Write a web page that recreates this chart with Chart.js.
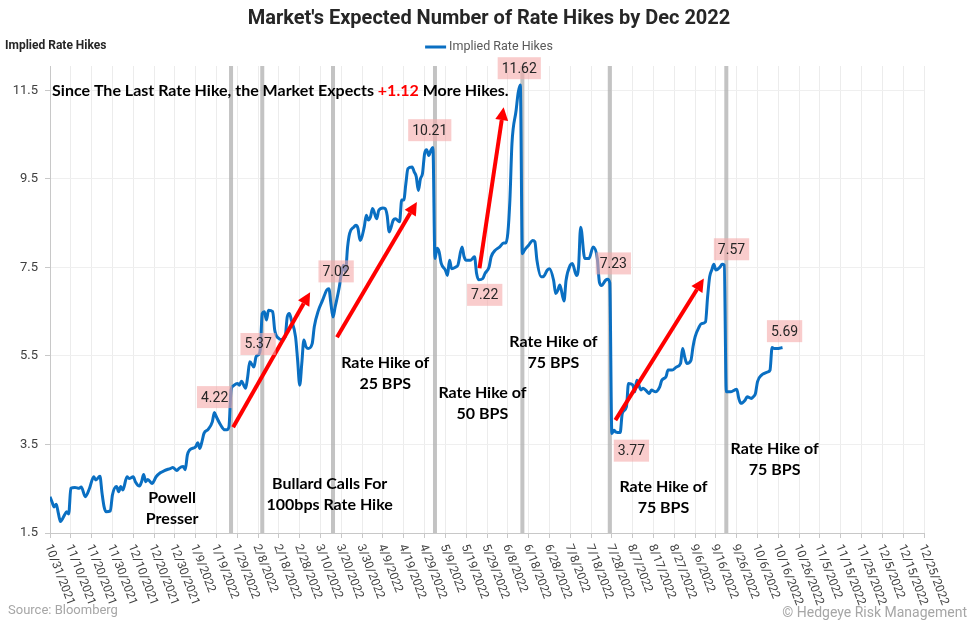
<!DOCTYPE html>
<html lang="en">
<head>
<meta charset="utf-8">
<title>Market's Expected Number of Rate Hikes by Dec 2022</title>
<style>
  html, body { margin: 0; background: #fff; }
  #wrap { width: 975px; height: 621px; position: relative; }
</style>
<script src="https://cdn.jsdelivr.net/npm/chart.js"></script>
</head>
<body>
<div id="wrap"><canvas id="chart"></canvas></div>
<script>
// implied number of hikes
var dates = [
  '2021-10-31','2021-11-01','2021-11-02','2021-11-03','2021-11-04','2021-11-05','2021-11-07','2021-11-08','2021-11-09','2021-11-10',
  '2021-11-12','2021-11-14','2021-11-15','2021-11-17','2021-11-19','2021-11-21','2021-11-22','2021-11-24','2021-11-25','2021-11-26',
  '2021-11-27','2021-11-29','2021-11-30','2021-12-02','2021-12-03','2021-12-04','2021-12-05','2021-12-07','2021-12-08','2021-12-10',
  '2021-12-11','2021-12-13','2021-12-14','2021-12-15','2021-12-16','2021-12-17','2021-12-19','2021-12-21','2021-12-23','2021-12-25',
  '2021-12-28','2021-12-29','2021-12-31','2022-01-01','2022-01-03','2022-01-04','2022-01-05','2022-01-06','2022-01-09','2022-01-10',
  '2022-01-11','2022-01-12','2022-01-13','2022-01-15','2022-01-17','2022-01-18','2022-01-19','2022-01-21','2022-01-23','2022-01-24',
  '2022-01-25','2022-01-26','2022-01-27','2022-01-29','2022-01-30','2022-01-31','2022-02-02','2022-02-03','2022-02-04','2022-02-06',
  '2022-02-07','2022-02-08','2022-02-09','2022-02-10','2022-02-11','2022-02-12','2022-02-13','2022-02-15','2022-02-16','2022-02-18',
  '2022-02-19','2022-02-21','2022-02-22','2022-02-23','2022-02-24','2022-02-26','2022-02-27','2022-02-28','2022-03-01','2022-03-02',
  '2022-03-03','2022-03-04','2022-03-06','2022-03-07','2022-03-09','2022-03-11','2022-03-13','2022-03-14','2022-03-15','2022-03-16',
  '2022-03-17','2022-03-19','2022-03-20','2022-03-21','2022-03-22','2022-03-23','2022-03-24','2022-03-26','2022-03-27','2022-03-28',
  '2022-03-29','2022-03-31','2022-04-01','2022-04-02','2022-04-03','2022-04-04','2022-04-06','2022-04-07','2022-04-09','2022-04-10',
  '2022-04-11','2022-04-12','2022-04-14','2022-04-15','2022-04-17','2022-04-18','2022-04-19','2022-04-20','2022-04-21','2022-04-23',
  '2022-04-24','2022-04-25','2022-04-26','2022-04-27','2022-04-28','2022-04-29','2022-04-30','2022-05-01','2022-05-02','2022-05-03',
  '2022-05-04','2022-05-05','2022-05-06','2022-05-07','2022-05-09','2022-05-10','2022-05-11','2022-05-12','2022-05-14','2022-05-15',
  '2022-05-17','2022-05-18','2022-05-19','2022-05-21','2022-05-23','2022-05-24','2022-05-25','2022-05-27','2022-05-28','2022-05-30',
  '2022-05-31','2022-06-02','2022-06-04','2022-06-06','2022-06-07','2022-06-08','2022-06-09','2022-06-10','2022-06-12','2022-06-13',
  '2022-06-14','2022-06-15','2022-06-16','2022-06-18','2022-06-20','2022-06-21','2022-06-22','2022-06-24','2022-06-25','2022-06-27',
  '2022-06-28','2022-06-30','2022-07-01','2022-07-02','2022-07-03','2022-07-05','2022-07-06','2022-07-08','2022-07-09','2022-07-11',
  '2022-07-12','2022-07-13','2022-07-15','2022-07-17','2022-07-19','2022-07-21','2022-07-22','2022-07-23','2022-07-25','2022-07-26',
  '2022-07-27','2022-07-28','2022-07-29','2022-07-30','2022-08-01','2022-08-02','2022-08-04','2022-08-05','2022-08-07','2022-08-08',
  '2022-08-09','2022-08-11','2022-08-12','2022-08-14','2022-08-15','2022-08-16','2022-08-18','2022-08-20','2022-08-21','2022-08-23',
  '2022-08-24','2022-08-26','2022-08-28','2022-08-30','2022-08-31','2022-09-01','2022-09-02','2022-09-04','2022-09-05','2022-09-06',
  '2022-09-08','2022-09-09','2022-09-11','2022-09-12','2022-09-13','2022-09-14','2022-09-15','2022-09-16','2022-09-18','2022-09-19',
  '2022-09-20','2022-09-21','2022-09-23','2022-09-25','2022-09-26','2022-09-27','2022-09-28','2022-09-30','2022-10-01','2022-10-03',
  '2022-10-04','2022-10-05','2022-10-06','2022-10-08','2022-10-09','2022-10-11','2022-10-12','2022-10-13','2022-10-14','2022-10-16',
  '2022-10-18'
];
var hikes = [
  2.32,2.20,2.09,2.15,1.95,1.76,1.91,1.98,1.93,2.51,
  2.53,2.51,2.54,2.32,2.51,2.77,2.70,2.78,2.40,2.09,
  1.98,2.00,2.36,2.55,2.43,2.55,2.47,2.77,2.73,2.77,
  2.66,2.56,2.66,2.82,2.66,2.71,2.62,2.77,2.86,2.91,
  2.96,2.98,2.91,2.96,3.00,2.93,3.26,3.37,3.45,3.54,
  3.41,3.56,3.75,3.84,4.01,4.22,4.12,3.94,3.83,3.83,
  3.90,4.73,4.82,4.88,4.84,4.93,4.77,5.03,5.37,5.25,
  5.48,5.52,5.63,6.46,6.50,6.31,6.53,6.50,6.08,5.89,
  5.87,5.93,6.38,6.46,6.31,5.93,5.40,4.84,5.33,5.86,
  5.71,5.67,5.78,6.16,6.53,6.76,6.99,7.02,6.68,6.38,
  6.60,7.05,7.36,7.55,7.40,7.96,8.27,8.41,8.45,8.38,
  8.11,8.41,8.68,8.57,8.64,8.83,8.60,8.79,8.84,8.83,
  8.68,8.30,8.57,8.60,8.53,9.02,9.02,9.39,9.73,9.77,
  9.66,9.55,9.24,9.50,9.62,10.07,10.16,10.03,10.14,10.21,
  7.70,7.93,7.85,7.59,7.44,7.32,7.66,7.47,7.51,7.55,
  7.96,7.74,7.66,7.66,7.74,7.36,7.22,7.25,7.36,7.51,
  7.74,7.89,7.96,8.05,8.05,8.27,9.02,10.30,11.05,11.45,
  11.62,7.81,7.89,8.00,8.11,8.08,7.66,7.29,7.29,7.44,
  7.47,7.21,6.91,6.98,7.10,6.74,7.21,7.55,7.59,7.32,
  7.51,8.41,7.70,7.70,7.96,7.70,7.17,7.09,7.21,7.23,
  7.15,3.75,3.82,3.78,3.77,4.20,4.35,4.88,4.85,4.69,
  4.95,4.73,4.77,4.69,4.65,4.73,4.69,4.80,4.95,5.03,
  5.18,5.18,5.25,5.33,5.67,5.48,5.33,5.40,5.71,5.93,
  6.16,6.23,6.27,6.83,7.29,7.44,7.57,7.44,7.51,7.57,
  7.55,4.69,4.69,4.73,4.75,4.54,4.43,4.50,4.58,4.54,
  4.58,4.65,4.92,5.07,5.10,5.14,5.18,5.69,5.67,5.67,
  5.69
];
var yTicks = [1.5, 3.5, 5.5, 7.5, 9.5, 11.5];
var axisStart = '2021-10-31', axisEnd = '2022-12-25', tickEveryDays = 10;
// Fed events marked with grey bars
var eventDates = ['2022-01-26', '2022-02-10', '2022-03-16', '2022-05-04', '2022-06-15', '2022-07-27', '2022-09-21'];
// highlighted readings
var calloutText = ['4.22', '5.37', '7.02', '10.21', '11.62', '7.22', '7.23', '3.77', '7.57', '5.69'];

// ---- annotation placement (axis units: day from start, hikes) ----
var calloutAt = [[79.1,4.57],[100,5.77],[137.5,7.41],[182.5,10.6],[225.5,12.0],[208.9,6.88],[270.7,7.59],[279.4,3.36],[327.5,7.91],[353,6.06]];
var arrows = [[88,3.89,125,6.94],[137.9,5.92,176.3,8.98],[206.4,7.48,218,11.12],[271.7,4.05,314.2,7.25]];
var notes = [
  {lines:['Powell','Presser'], at:[58.7,2.29]},
  {lines:['Bullard Calls For','100bps Rate Hike'], at:[134.4,2.61]},
  {lines:['Rate Hike of','25 BPS'], at:[161.1,5.34]},
  {lines:['Rate Hike of','50 BPS'], at:[207.8,4.66]},
  {lines:['Rate Hike of','75 BPS'], at:[241.9,5.81]},
  {lines:['Rate Hike of','75 BPS'], at:[294.8,2.54]},
  {lines:['Rate Hike of','75 BPS'], at:[348.2,3.40]}
];

var T0 = Date.parse(axisStart + 'T00:00:00Z');
function dayOf(s) { return Math.round((Date.parse(s + 'T00:00:00Z') - T0) / 864e5); }
function fmtDay(n) {
  var d = new Date(T0 + n * 864e5);
  return (d.getUTCMonth() + 1) + '/' + d.getUTCDate() + '/' + d.getUTCFullYear();
}
var lastDay = dayOf(axisEnd);
var xTicks = [];
for (var t = 0; t <= lastDay; t += tickEveryDays) xTicks.push(t);

var BLUE = '#0a6fc2';
var ANN_FONT = 'bold 16px Lato, "Noto Sans", sans-serif';

function drawArrow(ctx, x1, y1, x2, y2) {
  var a = Math.atan2(y2 - y1, x2 - x1), head = 13, w = 6.5;
  var bx = x2 - head * Math.cos(a), by = y2 - head * Math.sin(a);
  ctx.beginPath(); ctx.moveTo(x1, y1); ctx.lineTo(bx, by); ctx.stroke();
  ctx.beginPath();
  ctx.moveTo(x2, y2);
  ctx.lineTo(bx + w * Math.sin(a), by - w * Math.cos(a));
  ctx.lineTo(bx - w * Math.sin(a), by + w * Math.cos(a));
  ctx.closePath(); ctx.fill();
}

var overlay = {
  id: 'overlay',
  beforeDatasetsDraw: function (chart) {
    var ctx = chart.ctx, area = chart.chartArea, xs = chart.scales.x;
    ctx.save();
    ctx.strokeStyle = 'rgba(175,175,175,0.75)';
    ctx.lineWidth = 4;
    eventDates.forEach(function (d) {
      var px = xs.getPixelForValue(dayOf(d));
      ctx.beginPath(); ctx.moveTo(px, area.top); ctx.lineTo(px, area.bottom); ctx.stroke();
    });
    ctx.restore();
  },
  afterDraw: function (chart) {
    var ctx = chart.ctx, area = chart.chartArea, xs = chart.scales.x, ys = chart.scales.y;
    var W = chart.width, H = chart.height;
    ctx.save();

    // red arrows
    ctx.strokeStyle = '#ff0000'; ctx.fillStyle = '#ff0000'; ctx.lineWidth = 4;
    arrows.forEach(function (r) {
      drawArrow(ctx, xs.getPixelForValue(r[0]), ys.getPixelForValue(r[1]),
                     xs.getPixelForValue(r[2]), ys.getPixelForValue(r[3]));
    });

    // pink value callouts
    ctx.font = '14px Roboto, sans-serif';
    ctx.textAlign = 'center'; ctx.textBaseline = 'middle';
    calloutText.forEach(function (txt, i) {
      var cx = xs.getPixelForValue(calloutAt[i][0]), cy = ys.getPixelForValue(calloutAt[i][1]);
      var w = ctx.measureText(txt).width + 8, h = 22;
      ctx.fillStyle = 'rgba(245,170,170,0.6)';
      ctx.fillRect(cx - w / 2, cy - h / 2, w, h);
      ctx.fillStyle = '#262626';
      ctx.fillText(txt, cx, cy + 1);
    });

    // bold notes
    ctx.font = ANN_FONT; ctx.fillStyle = '#000';
    notes.forEach(function (n) {
      var cx = xs.getPixelForValue(n.at[0]), cy = ys.getPixelForValue(n.at[1]);
      n.lines.forEach(function (l, k) { ctx.fillText(l, cx, cy + k * 21); });
    });

    // headline note with red figure
    var parts = [['Since The Last Rate Hike, the Market Expects ', '#000'], ['+1.12', '#ff0000'], [' More Hikes.', '#000']];
    var hx = xs.getPixelForValue(1), hy = ys.getPixelForValue(11.5);
    ctx.textAlign = 'left';
    parts.forEach(function (p) {
      ctx.fillStyle = p[1]; ctx.fillText(p[0], hx, hy);
      hx += ctx.measureText(p[0]).width;
    });

    // rotated date labels
    ctx.font = '12px Roboto, sans-serif'; ctx.fillStyle = '#404040';
    ctx.textAlign = 'left'; ctx.textBaseline = 'middle';
    xs.ticks.forEach(function (tk) {
      var px = xs.getPixelForValue(tk.value);
      ctx.save();
      ctx.translate(px - 2, area.bottom + 12);
      ctx.rotate(69 * Math.PI / 180);
      ctx.fillText(fmtDay(tk.value), 0, 0);
      ctx.restore();
    });

    // title, legend, axis title, footers
    ctx.textBaseline = 'middle';
    ctx.fillStyle = '#262626'; ctx.textAlign = 'center';
    ctx.font = 'bold 20px Roboto, sans-serif';
    ctx.fillText("Market's Expected Number of Rate Hikes by Dec 2022", 489, 19);

    ctx.font = '12.5px Roboto, sans-serif';
    var lt = 'Implied Rate Hikes', lw = ctx.measureText(lt).width;
    var lx = 489 - (lw + 24) / 2;
    ctx.strokeStyle = BLUE; ctx.lineWidth = 3;
    ctx.beginPath(); ctx.moveTo(lx, 47); ctx.lineTo(lx + 21, 47); ctx.stroke();
    ctx.fillStyle = '#595959'; ctx.textAlign = 'left';
    ctx.fillText(lt, lx + 24, 47);

    ctx.font = 'bold 12px Roboto, sans-serif'; ctx.fillStyle = '#262626';
    ctx.fillText('Implied Rate Hikes', 5, 46);

    ctx.font = '13px Roboto, sans-serif'; ctx.fillStyle = '#a6a6a6';
    ctx.fillText('Source: Bloomberg', 8, H - 10);
    ctx.font = '14px Roboto, sans-serif'; ctx.textAlign = 'right';
    ctx.fillText('\u00A9 Hedgeye Risk Management', W - 8, H - 8);
    ctx.restore();
  }
};

new Chart(document.getElementById('chart'), {
  type: 'line',
  data: {
    datasets: [{
      label: 'Implied Rate Hikes',
      data: dates.map(function (d, i) { return { x: dayOf(d), y: hikes[i] }; }),
      borderColor: BLUE,
      borderWidth: 3,
      pointRadius: 0,
      tension: 0.4,
      cubicInterpolationMode: 'monotone',
      fill: false
    }]
  },
  options: {
    responsive: true,
    maintainAspectRatio: false,
    animation: false,
    devicePixelRatio: 1,
    layout: { padding: { top: 66, right: 51, left: 0, bottom: 0 } },
    plugins: { legend: { display: false }, title: { display: false }, tooltip: { enabled: false } },
    scales: {
      x: {
        type: 'linear', min: 0, max: lastDay,
        afterBuildTicks: function (s) { s.ticks = xTicks.map(function (v) { return { value: v }; }); },
        afterFit: function (s) { s.height = 88; },
        ticks: { display: false },
        grid: { color: '#ececec', tickLength: 5, tickColor: '#c8c8c8' },
        border: { color: '#c8c8c8' }
      },
      y: {
        min: 1.5, max: 12.05,
        afterBuildTicks: function (s) { s.ticks = yTicks.map(function (v) { return { value: v }; }); },
        afterFit: function (s) { s.width = 50; },
        ticks: {
          color: '#404040', padding: 7,
          font: { family: 'Roboto', size: 13 },
          callback: function (v) { return v.toFixed(1); }
        },
        grid: { color: '#efefef', tickLength: 5, tickColor: '#c8c8c8' },
        border: { color: '#c8c8c8' }
      }
    }
  },
  plugins: [overlay]
});
</script>
</body>
</html>
